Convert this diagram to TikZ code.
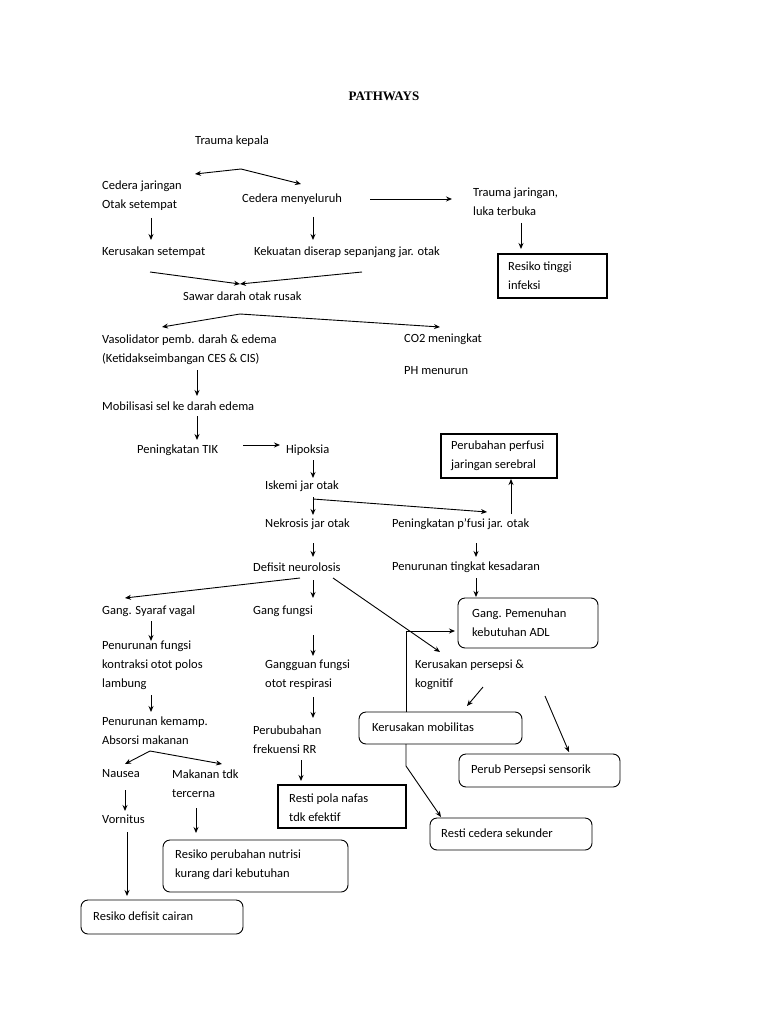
\documentclass[tikz,border=0pt]{standalone}
\usepackage{fontspec}
\setmainfont{Carlito}
\newfontfamily\serifb{Liberation Serif}
\usetikzlibrary{arrows.meta}
\begin{document}
\begin{tikzpicture}[x=1pt,y=-1pt,
  t/.style={anchor=west,inner sep=0pt,align=left,font=\fontsize{12.5}{19}\selectfont},
  bx/.style={draw,line width=1.3pt},
  rb/.style={draw,line width=0.9pt,rounded corners=7pt},
  a/.style={-{Stealth[length=6pt,width=5pt]},line width=0.9pt},
  l/.style={line width=0.9pt}]
\useasboundingbox (0,0) rectangle (768,1024);
\node[font=\serifb\bfseries\fontsize{13}{15}\selectfont] (title) at (384,96) {PATHWAYS};
\node[t] (tk) at (195,141) {Trauma kepala};
\node[t] (cj) at (102,196) {Cedera jaringan\\Otak setempat};
\node[t] (cm) at (242,199) {Cedera menyeluruh};
\node[t] (tj) at (473,202) {Trauma jaringan,\\luka terbuka};
\draw[bx] (498,254) rectangle (607,298);
\node[t] (ri) at (508,276) {Resiko tinggi\\infeksi};
\node[t] (ks) at (102,252) {Kerusakan setempat};
\node[t] (kd) at (254,252) {Kekuatan diserap sepanjang jar. otak};
\node[t] (sd) at (183,296) {Sawar darah otak rusak};
\node[t] (va) at (102,350) {Vasolidator pemb. darah \& edema\\(Ketidakseimbangan CES \& CIS)};
\node[t] (co) at (404,339) {CO2 meningkat};
\node[t] (ph) at (404,371) {PH menurun};
\node[t] (mo) at (102,406) {Mobilisasi sel ke darah edema};
\node[t] (tik) at (137,450) {Peningkatan TIK};
\node[t] (hi) at (286,450) {Hipoksia};
\draw[bx] (441,434) rectangle (557,478);
\node[t] (pp) at (451,456) {Perubahan perfusi\\jaringan serebral};
\node[t] (is) at (265,486) {Iskemi jar otak};
\node[t] (ne) at (265,524) {Nekrosis jar otak};
\node[t] (pf) at (392,524) {Peningkatan p’fusi jar. otak};
\node[t] (dn) at (253,567) {Defisit neurolosis};
\node[t] (pt) at (392,567) {Penurunan tingkat kesadaran};
\node[t] (gs) at (102,611) {Gang. Syaraf vagal};
\node[t] (gf) at (253,611) {Gang fungsi};
\draw[rb] (458,598) rectangle (598,648);
\node[t] (adl) at (472,623) {Gang. Pemenuhan\\kebutuhan ADL};
\node[t] (pk) at (102,665) {Penurunan fungsi\\kontraksi otot polos\\lambung};
\node[t] (gg) at (265,675) {Gangguan fungsi\\otot respirasi};
\node[t] (kp) at (415,675) {Kerusakan persepsi \&\\kognitif};
\draw[rb] (359,712) rectangle (522,744);
\node[t] (km) at (372,727) {Kerusakan mobilitas};
\node[t] (pa) at (102,731) {Penurunan kemamp.\\Absorsi makanan};
\node[t] (pr) at (253,740) {Perububahan\\frekuensi RR};
\draw[rb] (459,754) rectangle (620,787);
\node[t] (ps) at (471,770) {Perub Persepsi sensorik};
\node[t] (na) at (102,774) {Nausea};
\node[t] (mt) at (172,784) {Makanan tdk\\tercerna};
\node[t] (vo) at (102,819) {Vornitus};
\draw[bx] (278,785) rectangle (406,828);
\node[t] (rp) at (289,808) {Resti pola nafas\\tdk efektif};
\draw[rb] (430,818) rectangle (592,850);
\node[t] (rc) at (441,833) {Resti cedera sekunder};
\draw[rb] (163,840) rectangle (348,892);
\node[t] (rn) at (175,865) {Resiko perubahan nutrisi\\kurang dari kebutuhan};
\draw[rb] (81,900) rectangle (243,934);
\node[t] (rd) at (93,916) {Resiko defisit cairan};
% arrows
\coordinate (s1) at (241,169);
\draw[a] (s1) -- (195,174);
\draw[a] (s1) -- (301,184);
\draw[a] (370,199) -- (452,199);
\draw[a] (521,223) -- (521,249);
\draw[a] (151,218) -- (151,240);
\draw[a] (313,217) -- (313,240);
\coordinate (s2) at (240,284);
\draw[a] (150,272) -- (s2);
\draw[a] (362,272) -- (s2);
\coordinate (s3) at (240,314);
\draw[a] (s3) -- (162,327);
\draw[a] (s3) -- (440,327);
\draw[a] (197,370) -- (197,396);
\draw[a] (197,416) -- (197,440);
\draw[a] (243,445) -- (280,445);
\draw[a] (313,460) -- (313,478);
\draw[a] (313,497) -- (313,515);
\draw[a] (313,499) -- (487,512);
\draw[a] (511,514) -- (511,479);
\draw[a] (313,543) -- (313,557);
\draw[a] (476,543) -- (476,557);
\draw[a] (476,578) -- (476,597);
\coordinate (s4) at (300,578);
\draw[a] (s4) -- (125,598);
\draw[a] (333,578) -- (440,652);
\draw[a] (313,580) -- (313,598);
\draw[a] (313,635) -- (313,656);
\draw[a] (151,621) -- (151,641);
\draw[a] (313,697) -- (313,718);
\draw[a] (151,695) -- (151,712);
\coordinate (s5) at (150,751);
\draw[a] (s5) -- (125,764);
\draw[a] (s5) -- (222,764);
\draw[a] (301,760) -- (301,781);
\draw[a] (483,687) -- (467,706);
\draw[a] (545,696) -- (569,752);
\draw[a] (406,712) -- (406,631) -- (455,631);
\draw[a] (406,744) -- (406,766) -- (441,817);
\draw[a] (125,790) -- (125,811);
\draw[a] (196,808) -- (196,833);
\draw[a] (127,832) -- (127,896);
\end{tikzpicture}
\end{document}
